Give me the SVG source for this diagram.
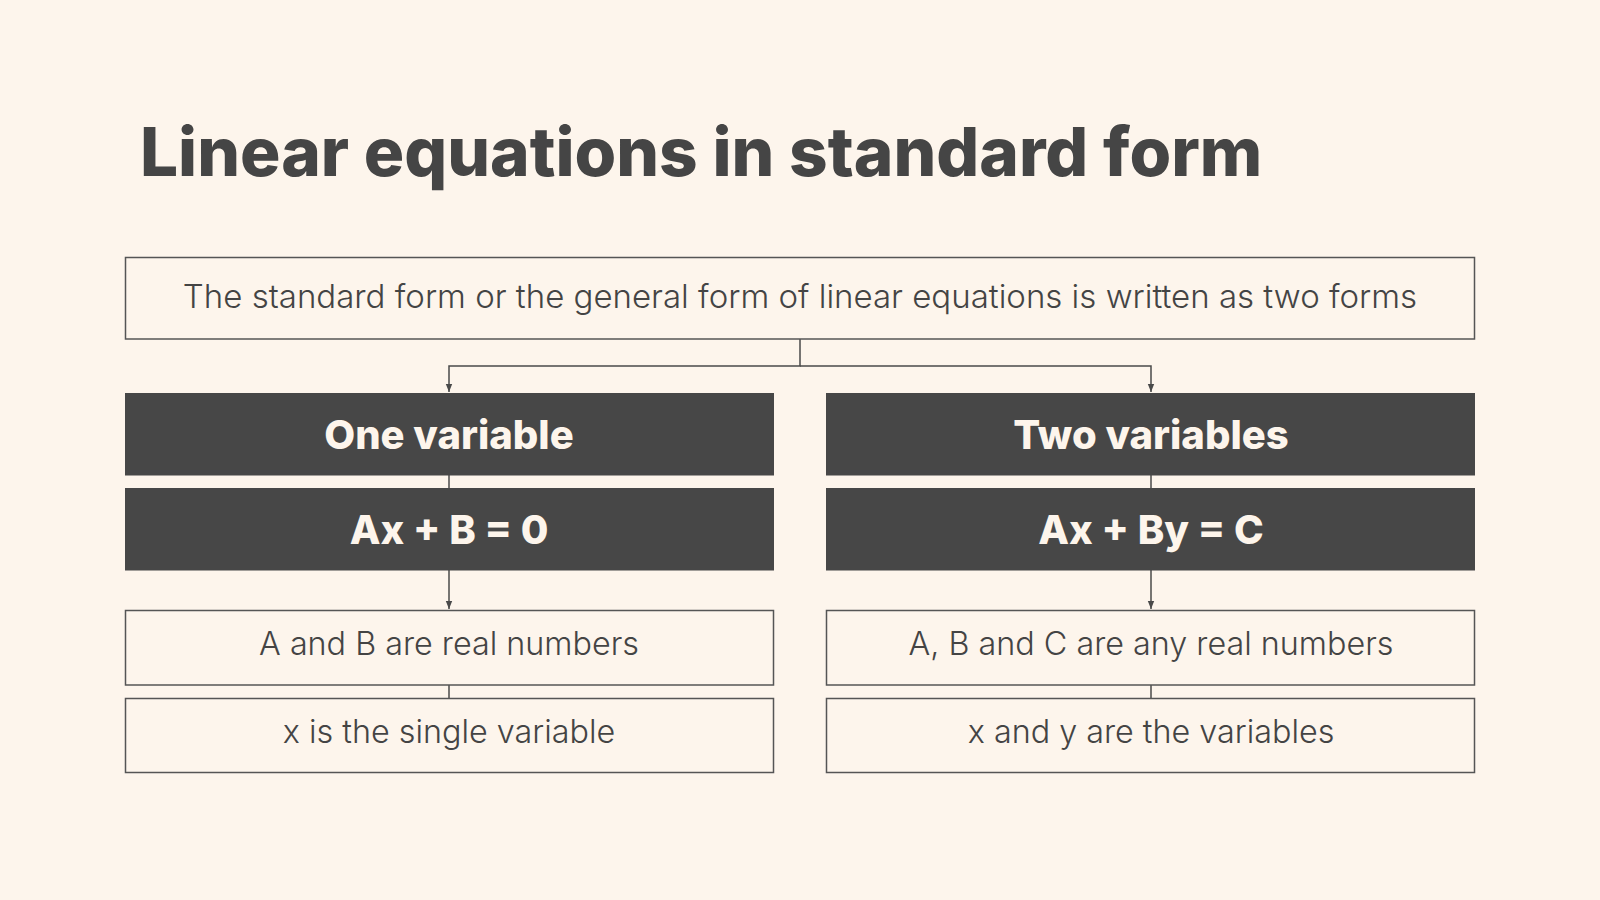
<svg xmlns="http://www.w3.org/2000/svg" width="1600" height="900" viewBox="0 0 1600 900">
<defs>
<marker id="arr" viewBox="0 0 10 10" refX="10" refY="5" markerWidth="8" markerHeight="8" markerUnits="userSpaceOnUse" orient="auto">
<path d="M0,1 L10,5 L0,9 Z" fill="#4a4a4a"/>
</marker>
</defs>
<style>
.title{font-family:Inter,"Liberation Sans",sans-serif;font-weight:800;font-size:67.4px;fill:#454545}
.lbox{fill:#fdf5ec;stroke:#555555;stroke-width:1.5}
.dbox{fill:#474747}
.lt{font-family:Inter,"Liberation Sans",sans-serif;font-weight:300;font-size:32.3px;fill:#444444}
.top{font-size:33px}
.dt{font-family:Inter,"Liberation Sans",sans-serif;font-weight:800;font-size:40px;fill:#fdf5ec}
.conn{fill:none;stroke:#4a4a4a;stroke-width:1.5}
</style>
<rect width="1600" height="900" fill="#fdf5ec"/>
<text class="title" x="140" y="176">Linear equations in standard form</text>
<g id="connectors">
<path class="conn" d="M800,339 V366 H449 V392" marker-end="url(#arr)"/>
<path class="conn" d="M800,366 H1151 V392" marker-end="url(#arr)"/>
<path class="conn" d="M449,475 V488"/>
<path class="conn" d="M1151,475 V488"/>
<path class="conn" d="M449,570 V609" marker-end="url(#arr)"/>
<path class="conn" d="M1151,570 V609" marker-end="url(#arr)"/>
<path class="conn" d="M449,685 V698"/>
<path class="conn" d="M1151,685 V698"/>
</g>
<g id="top">
<rect class="lbox" x="125.5" y="257.5" width="1349" height="81.5"/>
<text class="lt top" x="800" y="308" text-anchor="middle">The standard form or the general form of linear equations is written as two forms</text>
</g>
<g id="one-variable">
<rect class="dbox" x="125" y="393" width="649" height="82.5"/>
<text class="dt" x="449" y="449" text-anchor="middle">One variable</text>
</g>
<g id="one-eq">
<rect class="dbox" x="125" y="488" width="649" height="82.5"/>
<text class="dt" x="449" y="544" text-anchor="middle">Ax + B = 0</text>
</g>
<g id="one-a">
<rect class="lbox" x="125.5" y="610.5" width="648" height="74.5"/>
<text class="lt" x="449" y="655" text-anchor="middle">A and B are real numbers</text>
</g>
<g id="one-b">
<rect class="lbox" x="125.5" y="698.5" width="648" height="74"/>
<text class="lt" x="449" y="743" text-anchor="middle">x is the single variable</text>
</g>
<g id="two-variables">
<rect class="dbox" x="826" y="393" width="649" height="82.5"/>
<text class="dt" x="1151" y="449" text-anchor="middle">Two variables</text>
</g>
<g id="two-eq">
<rect class="dbox" x="826" y="488" width="649" height="82.5"/>
<text class="dt" x="1151" y="544" text-anchor="middle">Ax + By = C</text>
</g>
<g id="two-a">
<rect class="lbox" x="826.5" y="610.5" width="648" height="74.5"/>
<text class="lt" x="1151" y="655" text-anchor="middle">A, B and C are any real numbers</text>
</g>
<g id="two-b">
<rect class="lbox" x="826.5" y="698.5" width="648" height="74"/>
<text class="lt" x="1151" y="743" text-anchor="middle">x and y are the variables</text>
</g>
</svg>
